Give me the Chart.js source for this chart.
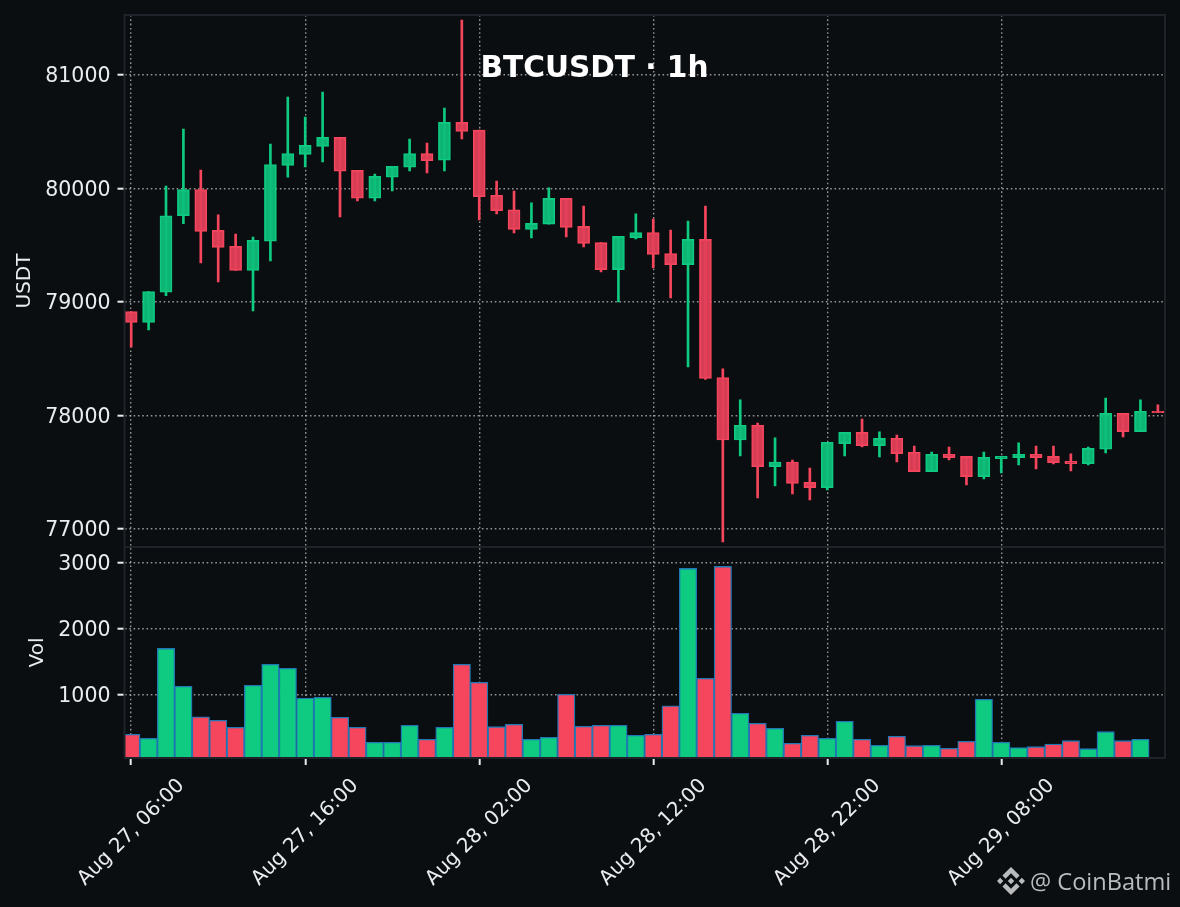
<!DOCTYPE html>
<html>
<head>
<meta charset="utf-8">
<title>BTCUSDT 1h</title>
<script src="https://cdn.jsdelivr.net/npm/chart.js@4"></script>
<style>
  html, body { margin: 0; padding: 0; background: #0b0e11; }
  #wrap { position: relative; width: 1180px; height: 907px; overflow: hidden; }
  #grafico { display: block; }
  #marca { position: absolute; left: 997px; top: 866px; height: 30px; display: flex; align-items: center; color: #b9bbbd; font: 23.6px "Open Sans", sans-serif; white-space: nowrap; }
  #marca svg { width: 28px; height: 28px; margin-right: 5px; fill: #b9bbbd; }
</style>
</head>
<body>
<div id="wrap">
  <canvas id="grafico" width="1180" height="907"></canvas>
  <div id="marca">
    <svg viewBox="0 0 32 32"><path d="M9.79 13.44 16 7.23l6.21 6.21 3.61-3.61L16 0 6.18 9.82zM0 16l3.61-3.61L7.22 16l-3.61 3.61zM9.79 18.56 16 24.77l6.21-6.21 3.61 3.61L16 32l-9.82-9.82zM24.78 16l3.61-3.61L32 16l-3.61 3.61zM19.66 16 16 12.34l-3.66 3.66L16 19.66z"/></svg>
    <span>@ CoinBatmi</span>
  </div>
</div>
<script>
// valores, um candle por hora
const opens = [78915,78821,79086,79760,79990,79632,79491,79279,79535,80204,80301,80372,80451,80160,79914,80099,80187,80307,80249,80583,
  80514,79940,79813,79640,79686,79913,79667,79524,79285,79567,79612,79427,79330,79552,78335,77784,77914,77549,77590,77410,
  77364,77752,77852,77734,77799,77676,77505,77658,77641,77461,77619,77628,77658,77641,77597,77575,77702,78019,77857,78037];
const highs = [78915,79091,80022,80524,80163,79767,79599,79573,80392,80806,80630,80850,80451,80160,80128,80196,80436,80401,80709,81485,
  80514,80066,79978,79873,80005,79913,79846,79524,79579,79776,79731,79634,79714,79846,78410,78137,77934,77802,77608,77537,
  77764,77852,77969,77855,77828,77731,77678,77722,77641,77678,77641,77758,77731,77731,77661,77722,78154,78019,78137,78093];
const lows = [78604,78753,79056,79690,79344,79176,79279,78921,79361,80101,80190,80234,79749,79890,79890,79978,80154,80137,80154,80436,
  79723,79776,79608,79564,79686,79573,79485,79264,79000,79555,79300,79035,78427,78317,76885,77643,77273,77379,77308,77256,
  77344,77643,77722,77634,77590,77505,77505,77608,77388,77441,77493,77564,77529,77573,77511,77564,77670,77811,77857,78025];
const closes = [78821,79091,79760,79990,79623,79482,79279,79544,80210,80307,80381,80451,80152,79914,80108,80196,80307,80245,80583,80504,
  79929,79804,79640,79694,79913,79658,79516,79285,79579,79612,79419,79330,79552,78326,77784,77914,77549,77590,77401,77364,
  77764,77852,77734,77799,77663,77505,77658,77628,77461,77632,77641,77658,77628,77584,77575,77711,78019,77857,78037,78025];
const volumes = [405,344,1707,1132,671,617,511,1147,1465,1405,955,965,662,511,283,283,541,329,511,1465,
  1192,520,556,329,359,1010,526,541,541,389,405,838,2920,1253,2950,723,571,495,268,389,
  344,601,329,238,374,232,238,192,298,935,283,202,217,258,308,186,444,308,329,56];

const xTicks = [0,10,20,30,40,50];
const xTickLabels = ["Aug 27, 06:00","Aug 27, 16:00","Aug 28, 02:00","Aug 28, 12:00","Aug 28, 22:00","Aug 29, 08:00"];
const priceTicks = [77000,78000,79000,80000,81000];
const volTicks = [1000,2000,3000];

const VERDE = '#0ecb81';
const VERMELHO = '#f6465d';
const MOLDURA = '#1e2329';
const TEXTO = '#eaecef';
const GRADE = 'rgba(200,200,200,0.72)';

const idx = opens.map((_, i) => i);
const cores = idx.map(i => closes[i] >= opens[i] ? VERDE : VERMELHO);
const coresCorpo = cores.map(c => c === VERDE ? 'rgba(14,190,122,0.95)' : 'rgba(226,64,88,0.95)');

// titulo e moldura dos paineis
const extras = {
  id: 'extras',
  afterDatasetsDraw(chart) {
    const { ctx, chartArea: a, scales } = chart;
    ctx.save();
    ctx.strokeStyle = MOLDURA;
    ctx.lineWidth = 2;
    ctx.strokeRect(a.left, a.top, a.right - a.left, a.bottom - a.top);
    ctx.beginPath();
    ctx.moveTo(a.left, scales.y.bottom);
    ctx.lineTo(a.right, scales.y.bottom);
    ctx.stroke();
    ctx.fillStyle = '#ffffff';
    ctx.font = 'bold 29.6px "DejaVu Sans"';
    ctx.textAlign = 'center';
    ctx.textBaseline = 'middle';
    ctx.fillText('BTCUSDT · 1h', chart.width / 2 + 4.5, 69);
    ctx.restore();
  }
};

const fonteEixo = { family: '"DejaVu Sans"', size: 20 };
const fonteY = { family: '"DejaVu Sans"', size: 20.5 };
const grade = { color: GRADE, lineWidth: 1.4, tickColor: TEXTO, tickWidth: 2, tickLength: 7, tickBorderDash: [] };
const borda = { display: false, dash: [1.6, 2.7] };

function eixoY(ticks) {
  return {
    afterBuildTicks(s) { s.ticks = ticks.map(v => ({ value: v })); },
    afterFit(s) { s.width = 124.5; s.paddingTop = 0; s.paddingBottom = 0; }
  };
}

new Chart(document.getElementById('grafico'), {
  type: 'bar',
  data: {
    datasets: [
      {
        label: 'Pavio',
        order: 3,
        yAxisID: 'y',
        data: idx.map(i => ({ x: i, y: [lows[i], highs[i]] })),
        backgroundColor: cores,
        borderWidth: 0,
        barThickness: 2,
        grouped: false
      },
      {
        label: 'Corpo',
        order: 2,
        yAxisID: 'y',
        data: idx.map(i => ({ x: i, y: [Math.min(opens[i], closes[i]), Math.max(opens[i], closes[i])] })),
        backgroundColor: coresCorpo,
        borderColor: cores,
        borderWidth: 1.5,
        borderSkipped: false,
        barThickness: 12,
        grouped: false
      },
      {
        label: 'Vol',
        order: 1,
        yAxisID: 'yVol',
        data: idx.map(i => ({ x: i, y: volumes[i] })),
        backgroundColor: cores,
        borderColor: '#1f77b4',
        borderWidth: 1.3,
        borderSkipped: false,
        categoryPercentage: 1,
        barPercentage: 1,
        grouped: false
      }
    ]
  },
  options: {
    responsive: false,
    animation: false,
    events: [],
    layout: { padding: { top: 15, right: 15, left: 0, bottom: 0 } },
    plugins: { legend: { display: false }, tooltip: { enabled: false }, title: { display: false } },
    scales: {
      x: {
        type: 'linear',
        offset: false,
        min: -0.385,
        max: 59.41,
        afterBuildTicks(s) { s.ticks = xTicks.map(v => ({ value: v })); },
        afterFit(s) { s.height = 149; s.paddingLeft = 0; s.paddingRight = 0; },
        border: borda,
        grid: { ...grade, offset: false },
        ticks: {
          autoSkip: false,
          minRotation: 45,
          maxRotation: 45,
          color: TEXTO,
          font: fonteEixo,
          padding: 9,
          labelOffset: 50,
          callback: v => xTickLabels[xTicks.indexOf(v)]
        }
      },
      y: {
        ...eixoY(priceTicks),
        stack: 'paineis',
        stackWeight: 532,
        weight: 2,
        min: 76841,
        max: 81529,
        border: borda,
        grid: grade,
        ticks: { color: TEXTO, font: fonteY, padding: 7, labelOffset: 2, callback: v => String(v) },
        title: { display: true, text: 'USDT', color: TEXTO, font: fonteEixo, padding: { top: 13, bottom: 0 } }
      },
      yVol: {
        ...eixoY(volTicks),
        stack: 'paineis',
        stackWeight: 211,
        weight: 1,
        min: 45,
        max: 3245,
        border: borda,
        grid: grade,
        ticks: { color: TEXTO, font: fonteY, padding: 7, labelOffset: 2, callback: v => String(v) },
        title: { display: true, text: 'Vol', color: TEXTO, font: fonteEixo, padding: { top: 26, bottom: 0 } }
      }
    }
  },
  plugins: [extras]
});
</script>
</body>
</html>
